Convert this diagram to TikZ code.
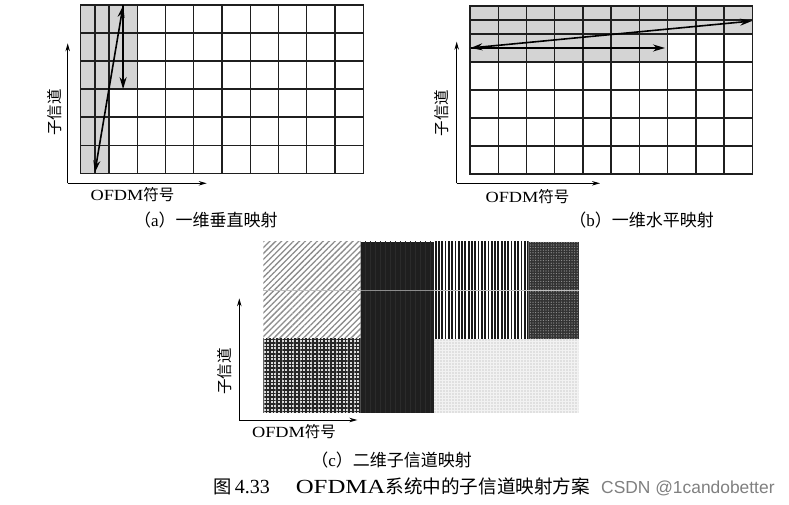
\documentclass[tikz,border=0pt]{standalone}
\usepackage{fontspec}
\setmainfont{Liberation Serif}
\newfontfamily\cjk{Noto Sans CJK SC}
\newfontfamily\wmfont{Liberation Sans}
\usetikzlibrary{arrows.meta,patterns.meta}
\newcommand{\ofdm}[1]{\scalebox{1.18}[1]{#1}}
\begin{document}
\begin{tikzpicture}[x=1pt,y=-1pt,
  gridline/.style={line width=1.4pt,draw=black!88,line cap=rect},
  shadecell/.style={fill=black!17},
  mapar/.style={line width=1.6pt,-{Stealth[length=12pt,width=7pt]}},
  maparboth/.style={line width=1.6pt,{Stealth[length=12pt,width=7pt]}-{Stealth[length=12pt,width=7pt]}},
  axisar/.style={line width=1pt,-{Stealth[length=8pt,width=4.5pt]}},
  ylab/.style={rotate=90,inner sep=0pt,font=\cjk\fontsize{15.5}{16}\selectfont},
  xlab/.style={inner sep=0pt,font=\fontsize{15.5}{16}\selectfont},
  sublab/.style={inner sep=0pt,font=\cjk\fontsize{17}{17}\selectfont},
  figcap/.style={inner sep=0pt,anchor=west,font=\fontsize{20}{20}\selectfont},
  wmark/.style={inner sep=0pt,anchor=west,text=black!50,font=\wmfont\fontsize{17.4}{18}\selectfont}]
\useasboundingbox (0,0) rectangle (789,505);
\fill[white] (0,0) rectangle (789,505);

% ---------------- (a) vertical mapping ----------------
\fill[shadecell] (80.7,5) rectangle (108.96,173.3);
\fill[shadecell] (108.96,5) rectangle (137.22,89.15);
\foreach \x in {80.7,94.83,108.96,137.22,165.48,193.74,222.0,250.26,278.52,306.78,335.04,363.3}
  \draw[gridline] (\x,5) -- (\x,173.3);
\foreach \y in {5,33.05,61.1,89.15,117.2,145.25,173.3}
  \draw[gridline] (80.7,\y) -- (363.3,\y);
\coordinate (aT) at (123.09,5.5);
\coordinate (aB) at (94.83,172.5);
\coordinate (aM) at (123.09,89.15);
\draw[maparboth] (aB) -- (aT);
\draw[mapar] (aT) -- (aM);
\coordinate (aO) at (67.7,183.3);
\coordinate (aY) at (67.7,43.3);
\coordinate (aX) at (206.7,183.3);
\draw[axisar] (aO) -- (aY);
\draw[axisar] (aO) -- (aX);
\node[ylab] (aYl) at (55,112.5) {子信道};
\node[xlab] (aXl) at (132.5,195) {\ofdm{OFDM}{\cjk 符号}};
\node[sublab] (aCap) at (205.8,220) {（{\rmfamily a}）一维垂直映射};

% ---------------- (b) horizontal mapping ----------------
\fill[shadecell] (470,6) rectangle (752.3,34);
\fill[shadecell] (470,34) rectangle (667.61,62);
\foreach \x in {470,498.23,526.46,554.69,582.92,611.15,639.38,667.61,695.84,724.07,752.3}
  \draw[gridline] (\x,6) -- (\x,174);
\foreach \y in {6,20,34,62,90,118,146,174}
  \draw[gridline] (470,\y) -- (752.3,\y);
\coordinate (bL) at (470.5,48);
\coordinate (bR) at (752,21);
\coordinate (bM) at (665,48);
\draw[maparboth] (bL) -- (bR);
\draw[mapar] (bL) -- (bM);
\coordinate (bO) at (456.7,183.3);
\coordinate (bY) at (456.7,41.7);
\coordinate (bX) at (600,183.3);
\draw[axisar] (bO) -- (bY);
\draw[axisar] (bO) -- (bX);
\node[ylab] (bYl) at (441.7,113) {子信道};
\node[xlab] (bXl) at (527.5,196.7) {\ofdm{OFDM}{\cjk 符号}};
\node[sublab] (bCap) at (641.7,220.5) {（{\rmfamily b}）一维水平映射};

% ---------------- (c) two-dimensional mapping ----------------
% hatched block
\fill[white] (263.3,241.5) rectangle (360.5,338.5);
\path[pattern={Lines[angle=45,distance=4.2pt,line width=1.3pt]},pattern color=black!45]
  (263.3,241.5) rectangle (360.5,338.5);
% crosshatch block
\fill[black!15] (263.3,338.5) rectangle (360.5,412.5);
\path[pattern={Hatch[angle=0,distance=3.6pt,line width=1.5pt]},pattern color=black!85]
  (263.3,338.5) rectangle (360.5,412.5);
% dark block
\fill[black!88] (360.5,241.5) rectangle (434,412.5);
\path[pattern={Lines[angle=90,distance=5pt,line width=0.4pt]},pattern color=black!83]
  (360.5,241.5) rectangle (434,412.5);
% vertical stripes block
\fill[white] (434,241.5) rectangle (528.7,338.5);
\path[pattern={Lines[angle=90,distance=3.3pt,line width=1.8pt]},pattern color=black!90]
  (434,241.5) rectangle (528.7,338.5);
% dark dotted block
\fill[black!80] (528.7,241.5) rectangle (578.5,338.5);
\path[pattern={Dots[radius=0.6pt,distance=2.6pt]},pattern color=black!40]
  (528.7,241.5) rectangle (578.5,338.5);
% light dotted block
\fill[black!5] (434,338.5) rectangle (578.5,412.5);
\path[pattern={Dots[radius=0.55pt,distance=3pt]},pattern color=black!35]
  (434,338.5) rectangle (578.5,412.5);
% faint division line
\draw[line width=0.8pt,black!25] (263.3,290.6) -- (578.5,290.6);
\draw[line width=1.2pt,black!45] (360.5,290.6) -- (434,290.6);
\coordinate (cO) at (239.3,420);
\coordinate (cY) at (239.3,298.3);
\coordinate (cX) at (357.3,420);
\draw[axisar] (cO) -- (cY);
\draw[axisar] (cO) -- (cX);
\node[ylab] (cYl) at (225,371.7) {子信道};
\node[xlab] (cXl) at (294,431.7) {\ofdm{OFDM}{\cjk 符号}};
\node[sublab] (cCap) at (391.7,460) {（{\rmfamily c}）二维子信道映射};

% ---------------- figure caption ----------------
\node[figcap] (figCap) at (213,486)
  {{\cjk\fontsize{18.3}{19}\selectfont 图}\,4.33\hspace{26pt}\scalebox{1.24}[1]{OFDMA}{\cjk\fontsize{18.6}{19}\selectfont 系统中的子信道映射方案}};
\node[wmark] (wm) at (601,488.5) {CSDN @1candobetter};
\end{tikzpicture}
\end{document}
